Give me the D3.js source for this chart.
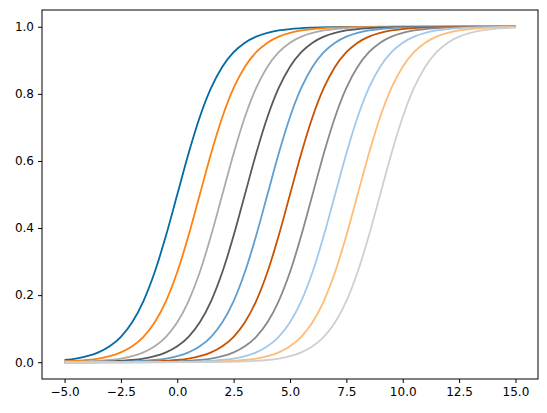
<!DOCTYPE html>
<html><head><meta charset="utf-8">
<script src="https://cdn.jsdelivr.net/npm/d3@7"></script>
<style>body{margin:0;background:#fff}</style></head>
<body><svg id="c" width="547" height="413"></svg>
<script>
// Curve centres (x where y = 0.5), one per series
const centers = [0, 1, 2, 3, 4, 5, 6, 7, 8, 9];
const colors = ['#006BA4','#FF800E','#ABABAB','#595959','#5F9ED1','#C85200','#898989','#A2C8EC','#FFBC79','#CFCFCF'];
// Shared S-curve profile: offsets from centre and y values
const profileDx = [-14,-12,-10,-8,-7,-6,-5,-4.5,-4,-3.5,-3,-2.5,-2,-1.5,-1,-0.5,0,0.5,1,1.5,2,2.5,3,3.5,4,4.5,5,6,7,8,10,12,15];
const profileY = [0.0000,0.0000,0.0000,0.0003,0.0009,0.0025,0.0067,0.0110,0.0180,0.0293,0.0474,0.0759,0.1192,0.1824,0.2689,0.3775,0.5,0.6225,0.7311,0.8176,0.8808,0.9241,0.9526,0.9707,0.9820,0.9890,0.9933,0.9975,0.9991,0.9997,1.0000,1.0000,1.0000];
const xTicks = [-5,-2.5,0,2.5,5,7.5,10,12.5,15];
const yTicks = [0,0.2,0.4,0.6,0.8,1.0];
const xMin = -5, xMax = 15;

const L=42,R=538,T=10,B=379;
const svg=d3.select('#c');
const x=d3.scaleLinear().domain([-6,16]).range([L,R]);
const y=d3.scaleLinear().domain([-0.05,1.05]).range([B,T]);
const line=d3.line().x(d=>x(d[0])).y(d=>y(d[1])).curve(d3.curveMonotoneX);
centers.forEach((c,i)=>{
  const pts=[];
  profileDx.forEach((dx,j)=>{const xv=c+dx; if(xv>=xMin&&xv<=xMax) pts.push([xv,profileY[j]]);});
  const interp=(xv)=>{const dx=xv-c;for(let j=0;j<profileDx.length-1;j++){if(dx>=profileDx[j]&&dx<=profileDx[j+1]){const t=(dx-profileDx[j])/(profileDx[j+1]-profileDx[j]);return profileY[j]+t*(profileY[j+1]-profileY[j]);}}return dx<0?0:1;};
  if(pts[0][0]>xMin) pts.unshift([xMin,interp(xMin)]);
  if(pts[pts.length-1][0]<xMax) pts.push([xMax,interp(xMax)]);
  svg.append('path').attr('d',line(pts)).attr('fill','none').attr('stroke',colors[i]).attr('stroke-width',1.8);
});
const font='DejaVu Sans';
svg.append('g').attr('transform',`translate(0,${B})`).call(d3.axisBottom(x).tickValues(xTicks).tickFormat(d3.format('.1f')).tickSizeOuter(0).tickSize(4).tickPadding(4))
 .call(g=>{g.select('.domain').remove();g.selectAll('text').attr('font-family',font).attr('font-size',12).attr('fill','#000');g.selectAll('line').attr('stroke','#000');});
svg.append('g').attr('transform',`translate(${L},0)`).call(d3.axisLeft(y).tickValues(yTicks).tickFormat(d3.format('.1f')).tickSizeOuter(0).tickSize(4).tickPadding(4))
 .call(g=>{g.select('.domain').remove();g.selectAll('text').attr('font-family',font).attr('font-size',12).attr('fill','#000');g.selectAll('line').attr('stroke','#000');});
svg.append('rect').attr('x',L).attr('y',T).attr('width',R-L).attr('height',B-T).attr('fill','none').attr('stroke','#000').attr('stroke-width',1);
</script></body></html>
